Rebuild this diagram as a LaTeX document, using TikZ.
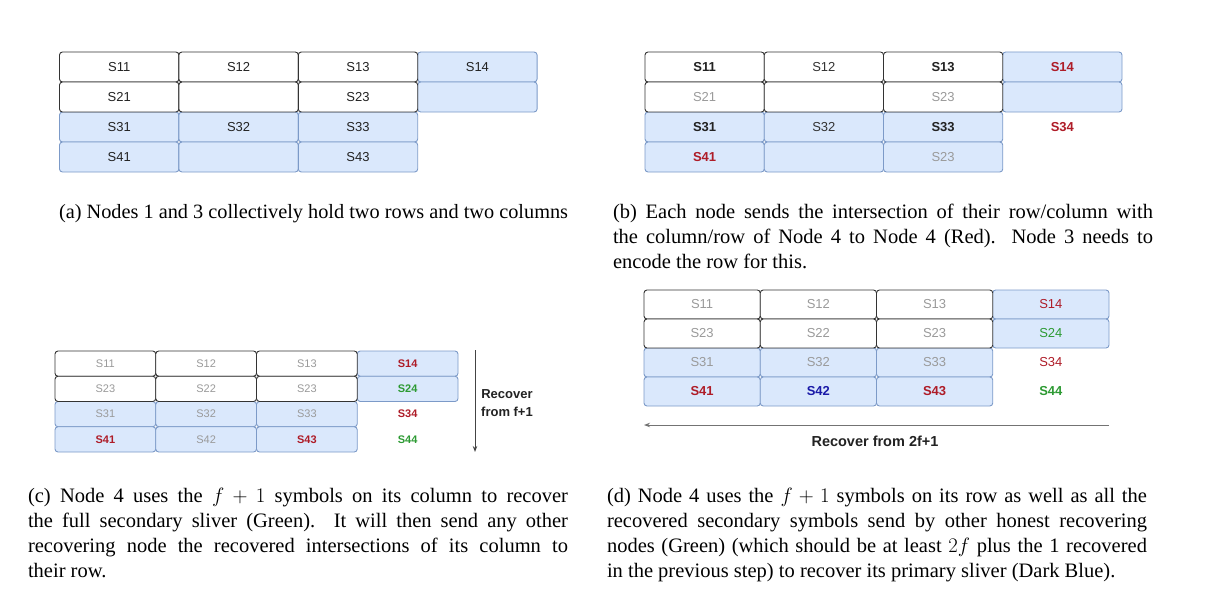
\documentclass[tikz,border=0pt]{standalone}
\usepackage{fontspec}
\setmainfont{Liberation Serif}
\setsansfont{Liberation Sans}
\usetikzlibrary{arrows.meta}
\definecolor{cfill}{HTML}{DAE8FC}
\definecolor{cblue}{HTML}{7C9AC8}
\definecolor{cdark}{HTML}{333333}
\definecolor{ctxt}{HTML}{222222}
\definecolor{cgray}{HTML}{9A9A9A}
\definecolor{cred}{HTML}{AE1C28}
\definecolor{cgreen}{HTML}{2D9A33}
\definecolor{cnavy}{HTML}{1A1AA8}
\definecolor{carrow}{HTML}{444444}
\begin{document}
\begin{tikzpicture}[x=1pt,y=-1pt,
  cell/.style={rectangle, rounded corners=3pt, inner sep=0pt, outer sep=0pt, anchor=north west, line width=0.9pt, text=ctxt},
  wcell/.style={cell, draw=cdark, fill=white},
  bcell/.style={cell, draw=cblue, fill=cfill},
  ncell/.style={cell},
  pa/.style={minimum width=119.4pt, minimum height=30pt, font=\sffamily\fontsize{13}{13}\selectfont},
  pb/.style={minimum width=119.25pt, minimum height=30pt, font=\sffamily\fontsize{13}{13}\selectfont},
  pc/.style={minimum width=100.75pt, minimum height=25.25pt, font=\sffamily\fontsize{11}{11}\selectfont},
  pd/.style={minimum width=116.25pt, minimum height=29pt, font=\sffamily\fontsize{13}{13}\selectfont},
  gr/.style={text=cgray},
  dk/.style={text=cdark},
  rd/.style={text=cred},
  gn/.style={text=cgreen},
  nv/.style={text=cnavy},
  captext/.style={inner sep=0pt, outer sep=0pt, anchor=base west, text=black, font=\fontsize{20.5}{25}\selectfont},
  capbox/.style={captext, text width=540pt, align=justify},
  recov/.style={font=\sffamily\bfseries\fontsize{13}{18}\selectfont, text=ctxt, align=center, inner sep=0pt},
  arr/.style={-{Stealth[length=6pt,width=4.5pt]}, line width=1pt}
]
\useasboundingbox (0,0) rectangle (1212,602);

% ---------------- panel (a)
\node[bcell,pa] (a14) at (417.7,52) {S14};
\node[bcell,pa] (a24) at (417.7,82) {};
\node[bcell,pa] (a31) at (59.5,112) {S31};
\node[bcell,pa] (a32) at (178.9,112) {S32};
\node[bcell,pa] (a33) at (298.3,112) {S33};
\node[bcell,pa] (a41) at (59.5,142) {S41};
\node[bcell,pa] (a42) at (178.9,142) {};
\node[bcell,pa] (a43) at (298.3,142) {S43};
\node[wcell,pa] (a11) at (59.5,52) {S11};
\node[wcell,pa] (a12) at (178.9,52) {S12};
\node[wcell,pa] (a13) at (298.3,52) {S13};
\node[wcell,pa] (a21) at (59.5,82) {S21};
\node[wcell,pa] (a22) at (178.9,82) {};
\node[wcell,pa] (a23) at (298.3,82) {S23};

% ---------------- panel (b)
\node[bcell,pb,rd] (b14) at (1002.75,52) {\textbf{S14}};
\node[bcell,pb] (b24) at (1002.75,82) {};
\node[bcell,pb] (b31) at (645,112) {\textbf{S31}};
\node[bcell,pb,dk] (b32) at (764.25,112) {S32};
\node[bcell,pb] (b33) at (883.5,112) {\textbf{S33}};
\node[ncell,pb,rd] (b34) at (1002.75,112) {\textbf{S34}};
\node[bcell,pb,rd] (b41) at (645,142) {\textbf{S41}};
\node[bcell,pb] (b42) at (764.25,142) {};
\node[bcell,pb,gr] (b43) at (883.5,142) {S23};
\node[wcell,pb] (b11) at (645,52) {\textbf{S11}};
\node[wcell,pb,dk] (b12) at (764.25,52) {S12};
\node[wcell,pb] (b13) at (883.5,52) {\textbf{S13}};
\node[wcell,pb,gr] (b21) at (645,82) {S21};
\node[wcell,pb] (b22) at (764.25,82) {};
\node[wcell,pb,gr] (b23) at (883.5,82) {S23};

% ---------------- panel (c)
\node[bcell,pc,rd] (c14) at (357.25,351) {\textbf{S14}};
\node[bcell,pc,gn] (c24) at (357.25,376.25) {\textbf{S24}};
\node[bcell,pc,gr] (c31) at (55,401.5) {S31};
\node[bcell,pc,gr] (c32) at (155.75,401.5) {S32};
\node[bcell,pc,gr] (c33) at (256.5,401.5) {S33};
\node[ncell,pc,rd] (c34) at (357.25,401.5) {\textbf{S34}};
\node[bcell,pc,rd] (c41) at (55,426.75) {\textbf{S41}};
\node[bcell,pc,gr] (c42) at (155.75,426.75) {S42};
\node[bcell,pc,rd] (c43) at (256.5,426.75) {\textbf{S43}};
\node[ncell,pc,gn] (c44) at (357.25,426.75) {\textbf{S44}};
\node[wcell,pc,gr] (c11) at (55,351) {S11};
\node[wcell,pc,gr] (c12) at (155.75,351) {S12};
\node[wcell,pc,gr] (c13) at (256.5,351) {S13};
\node[wcell,pc,gr] (c21) at (55,376.25) {S23};
\node[wcell,pc,gr] (c22) at (155.75,376.25) {S22};
\node[wcell,pc,gr] (c23) at (256.5,376.25) {S23};
\coordinate (cA) at (475,350);
\coordinate (cB) at (475,452);
\draw[arr, draw=carrow] (cA) -- (cB);
\node[recov] (cR) at (507,403) {Recover\\from f+1};

% ---------------- panel (d)
\node[bcell,pd,rd] (d14) at (992.75,290) {S14};
\node[bcell,pd,gn] (d24) at (992.75,319) {S24};
\node[bcell,pd,gr] (d31) at (644,348) {S31};
\node[bcell,pd,gr] (d32) at (760.25,348) {S32};
\node[bcell,pd,gr] (d33) at (876.5,348) {S33};
\node[ncell,pd,rd] (d34) at (992.75,348) {S34};
\node[bcell,pd,rd] (d41) at (644,377) {\textbf{S41}};
\node[bcell,pd,nv] (d42) at (760.25,377) {\textbf{S42}};
\node[bcell,pd,rd] (d43) at (876.5,377) {\textbf{S43}};
\node[ncell,pd,gn] (d44) at (992.75,377) {\textbf{S44}};
\node[wcell,pd,gr] (d11) at (644,290) {S11};
\node[wcell,pd,gr] (d12) at (760.25,290) {S12};
\node[wcell,pd,gr] (d13) at (876.5,290) {S13};
\node[wcell,pd,gr] (d21) at (644,319) {S23};
\node[wcell,pd,gr] (d22) at (760.25,319) {S22};
\node[wcell,pd,gr] (d23) at (876.5,319) {S23};
\coordinate (dA) at (1109,425);
\coordinate (dB) at (644,425);
\draw[arr, draw=black!55] (dA) -- (dB);
\node[recov, font=\sffamily\bfseries\fontsize{14.5}{18}\selectfont] (dR) at (875,441) {Recover from 2f+1};

% ---------------- captions
\node[captext, font=\fontsize{20.3}{25}\selectfont] (capa) at (59,218) {(a) Nodes 1 and 3 collectively hold two rows and two columns};
\node[capbox] (capb) at (613,218) {\tolerance=9999 (b) Each node sends the intersection of their row/column with\linebreak the column/row of Node 4 to Node 4 (Red). Node 3 needs to\linebreak encode the row for this.};
\node[capbox] (capc) at (28,502) {\tolerance=9999 (c) Node 4 uses the $f+1$ symbols on its column to recover\linebreak the full secondary sliver (Green). It will then send any other\linebreak recovering node the recovered intersections of its column to\linebreak their row.};
\node[capbox] (capd) at (607,502) {\tolerance=9999 (d) Node 4 uses the $f+1$ symbols on its row as well as all the\linebreak recovered secondary symbols send by other honest recovering\linebreak nodes (Green) (which should be at least $2f$ plus the 1 recovered\linebreak in the previous step) to recover its primary sliver (Dark Blue).};
\end{tikzpicture}
\end{document}
